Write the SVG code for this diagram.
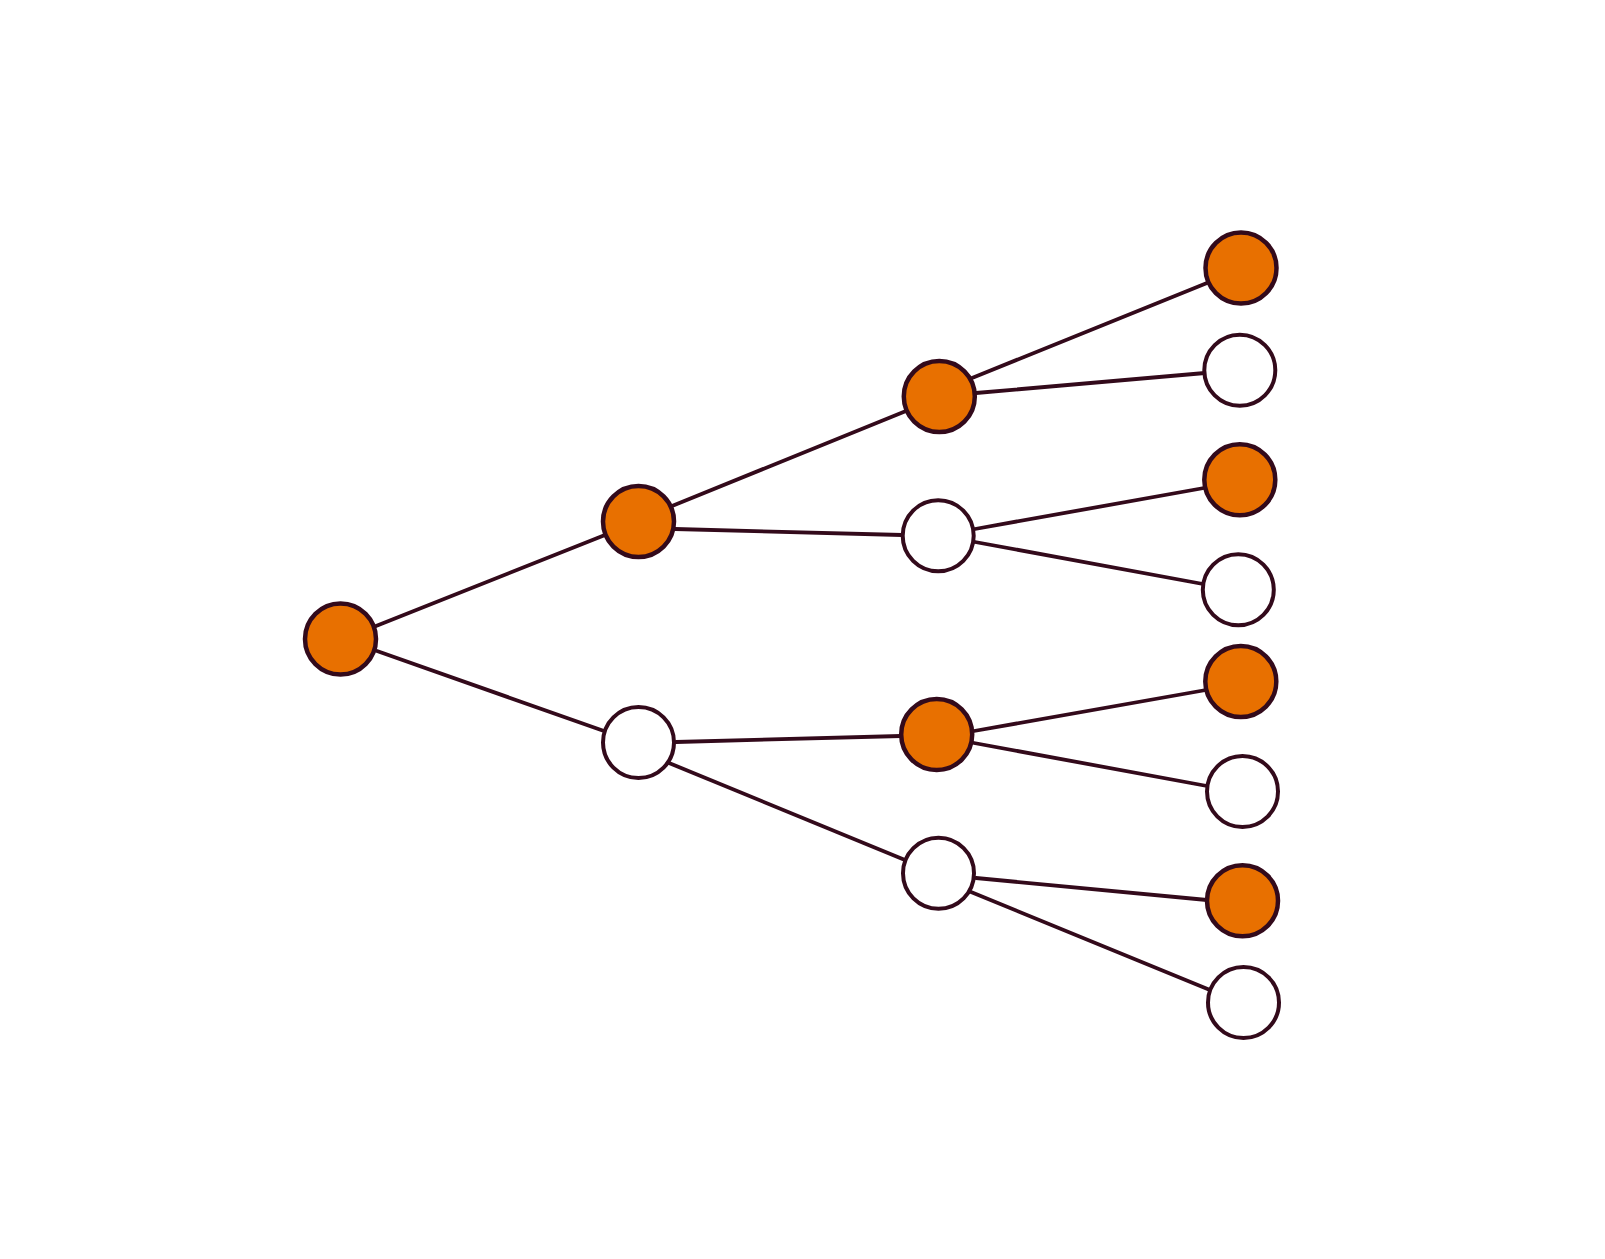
<svg xmlns="http://www.w3.org/2000/svg" width="1605" height="1259" viewBox="0 0 1605 1259">
<style>
.e{stroke:#330a1b;stroke-width:3.8;fill:none;stroke-linecap:round}
.n{stroke:#330a1b;stroke-width:4}
.o{fill:#e87000;stroke-width:4.5}
.w{fill:#ffffff}
</style>
<rect width="1605" height="1259" fill="#ffffff"/>
<g id="connectors">
<line class="e" x1="376" y1="626" x2="605" y2="535"/>
<line class="e" x1="377" y1="651" x2="604" y2="731"/>
<line class="e" x1="672" y1="506" x2="906" y2="411"/>
<line class="e" x1="675" y1="529" x2="902" y2="535"/>
<line class="e" x1="676" y1="742" x2="901" y2="736"/>
<line class="e" x1="669" y1="763" x2="905" y2="860"/>
<line class="e" x1="972" y1="378" x2="1207" y2="283"/>
<line class="e" x1="976" y1="393" x2="1205" y2="373"/>
<line class="e" x1="975" y1="529" x2="1204" y2="488"/>
<line class="e" x1="975" y1="542" x2="1203" y2="584"/>
<line class="e" x1="974" y1="731" x2="1206" y2="690"/>
<line class="e" x1="974" y1="743" x2="1207" y2="786"/>
<line class="e" x1="976" y1="878" x2="1207" y2="900"/>
<line class="e" x1="971" y1="892" x2="1210" y2="990"/>
</g>
<g id="n0"><circle class="n o" cx="340.5" cy="639" r="35.5"/></g>
<g id="n1"><circle class="n o" cx="638.5" cy="521.5" r="35.5"/></g>
<g id="n2"><circle class="n w" cx="638.5" cy="742.5" r="35.5"/></g>
<g id="n3"><circle class="n o" cx="939.3" cy="396.5" r="35.5"/></g>
<g id="n4"><circle class="n w" cx="938.2" cy="535.7" r="35.5"/></g>
<g id="n5"><circle class="n o" cx="936.7" cy="734.5" r="35.5"/></g>
<g id="n6"><circle class="n w" cx="938.5" cy="873.2" r="35.5"/></g>
<g id="n7"><circle class="n o" cx="1241" cy="268" r="35.5"/></g>
<g id="n8"><circle class="n w" cx="1239.8" cy="370.2" r="35.5"/></g>
<g id="n9"><circle class="n o" cx="1239.8" cy="479.8" r="35.5"/></g>
<g id="n10"><circle class="n w" cx="1238.3" cy="589.8" r="35.5"/></g>
<g id="n11"><circle class="n o" cx="1240.8" cy="681.5" r="35.5"/></g>
<g id="n12"><circle class="n w" cx="1242.5" cy="791.5" r="35.5"/></g>
<g id="n13"><circle class="n o" cx="1242.5" cy="900.8" r="35.5"/></g>
<g id="n14"><circle class="n w" cx="1243.5" cy="1002.5" r="35.5"/></g>
</svg>
